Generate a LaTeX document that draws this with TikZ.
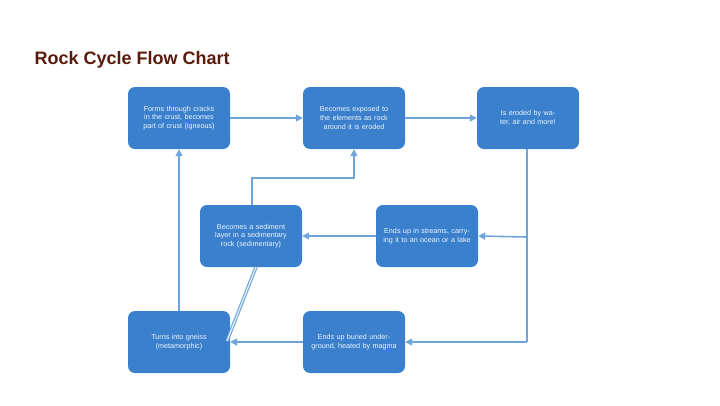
\documentclass[tikz,border=0pt]{standalone}
\usepackage{fontspec}
\setmainfont{Liberation Sans}
\usetikzlibrary{arrows.meta}
\definecolor{boxc}{HTML}{3A80CD}
\definecolor{linec}{HTML}{6FA5DB}
\definecolor{titlec}{HTML}{5A1A0C}
\begin{document}
\begin{tikzpicture}[x=1pt,y=-1pt,
  box/.style={draw=none,fill=boxc,rounded corners=7pt,minimum width=102pt,minimum height=62pt,text width=90pt,align=center,text=white!92!boxc,font=\fontsize{7.2}{8.6}\selectfont,inner sep=2pt},
  conn/.style={draw=linec,line width=1.6pt,-{Triangle[length=7pt,width=7pt]}}]
\useasboundingbox (0,0) rectangle (720,405);
\fill[white] (0,0) rectangle (720,405);
\node[anchor=west,text=titlec,font=\bfseries\fontsize{18}{20}\selectfont] (title) at (31,60) {Rock Cycle Flow Chart};
\node[box] (b1) at (179,118) {Forms through cracks in the crust, becomes part of crust (igneous)};
\node[box] (b2) at (354,118) {Becomes exposed to the elements as rock around it is eroded};
\node[box] (b3) at (528,118) {Is eroded by water, air and more!};
\node[box] (b4) at (251,236) {Becomes a sediment layer in a sedimentary rock (sedimentary)};
\node[box] (b5) at (427,236) {Ends up in streams, carrying it to an ocean or a lake};
\node[box] (b6) at (179,342) {Turns into gneiss (metamorphic)};
\node[box] (b7) at (354,342) {Ends up buried underground, heated by magma};
\coordinate (j1) at (527,342);
\coordinate (j2) at (527,237);
\draw[conn] (b1) -- (b2);
\draw[conn] (b2) -- (b3);
\draw[draw=linec,line width=1.6pt] (b3.south -| j1) -- (j1);
\draw[conn] (j1) -- (b7.east);
\draw[conn] (j2) -- (b5.east);
\draw[conn] (b5) -- (b4);
\draw[conn] ([xshift=1pt]b4.north) -- ++(0,-27) -| (b2.south);
\draw[conn] (b7) -- (b6);
\draw[conn] (b6.north) -- (b1.south);
\draw[draw=linec,line width=3.4pt] (256,267) -- (227,341);
\draw[draw=white!80!linec,line width=1.2pt] (256,267) -- (227,341);
\end{tikzpicture}
\end{document}
